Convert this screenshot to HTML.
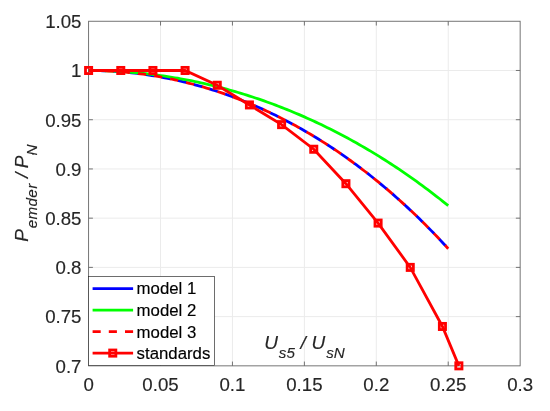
<!DOCTYPE html>
<html><head><meta charset="utf-8"><title>plot</title>
<style>
html,body{margin:0;padding:0;background:#fff;}
body{width:550px;height:411px;overflow:hidden;}
svg{display:block;}
text{font-family:"Liberation Sans",sans-serif;}
.tk{font-size:18.67px;fill:#262626;stroke:#262626;stroke-width:0.15px;}
.lb{font-size:19px;fill:#262626;font-style:italic;stroke:#262626;stroke-width:0.15px;}
.lb.sub{font-size:15.2px;}
.lg{font-size:16.8px;fill:#000;stroke:#000;stroke-width:0.15px;}
</style></head><body>
<svg width="550" height="411" viewBox="0 0 550 411">
<rect x="0" y="0" width="550" height="411" fill="#fff"/>
<path d="M160.52 21.25V365.85M232.45 21.25V365.85M304.38 21.25V365.85M376.30 21.25V365.85M448.23 21.25V365.85M88.60 316.62H520.15M88.60 267.39H520.15M88.60 218.16H520.15M88.60 168.94H520.15M88.60 119.71H520.15M88.60 70.48H520.15" stroke="#ebebeb" stroke-width="1" fill="none"/>
<path d="M160.52 365.85v-4.3M160.52 21.25v4.3M232.45 365.85v-4.3M232.45 21.25v4.3M304.38 365.85v-4.3M304.38 21.25v4.3M376.30 365.85v-4.3M376.30 21.25v4.3M448.23 365.85v-4.3M448.23 21.25v4.3M88.60 316.62h4.3M520.15 316.62h-4.3M88.60 267.39h4.3M520.15 267.39h-4.3M88.60 218.16h4.3M520.15 218.16h-4.3M88.60 168.94h4.3M520.15 168.94h-4.3M88.60 119.71h4.3M520.15 119.71h-4.3M88.60 70.48h4.3M520.15 70.48h-4.3" stroke="#666" stroke-width="0.9" fill="none"/>
<rect x="88.60" y="21.25" width="431.55" height="344.60" fill="none" stroke="#666" stroke-width="0.9"/>
<polyline points="88.60,70.48 91.48,70.49 94.35,70.52 97.23,70.57 100.11,70.64 102.98,70.74 105.86,70.85 108.74,70.99 111.62,71.14 114.49,71.32 117.37,71.52 120.25,71.73 123.12,71.97 126.00,72.23 128.88,72.51 131.75,72.82 134.63,73.14 137.51,73.48 140.39,73.85 143.26,74.23 146.14,74.64 149.02,75.06 151.89,75.51 154.77,75.98 157.65,76.47 160.52,76.98 163.40,77.52 166.28,78.07 169.16,78.65 172.03,79.24 174.91,79.86 177.79,80.50 180.66,81.16 183.54,81.84 186.42,82.54 189.30,83.27 192.17,84.02 195.05,84.78 197.93,85.57 200.80,86.39 203.68,87.22 206.56,88.07 209.43,88.95 212.31,89.85 215.19,90.77 218.06,91.71 220.94,92.68 223.82,93.67 226.70,94.68 229.57,95.71 232.45,96.76 235.33,97.84 238.20,98.94 241.08,100.06 243.96,101.21 246.83,102.37 249.71,103.57 252.59,104.78 255.47,106.02 258.34,107.28 261.22,108.56 264.10,109.87 266.97,111.20 269.85,112.55 272.73,113.93 275.61,115.33 278.48,116.75 281.36,118.20 284.24,119.67 287.11,121.17 289.99,122.69 292.87,124.24 295.74,125.81 298.62,127.40 301.50,129.02 304.38,130.67 307.25,132.34 310.13,134.03 313.01,135.75 315.88,137.50 318.76,139.27 321.64,141.07 324.51,142.89 327.39,144.74 330.27,146.62 333.14,148.52 336.02,150.45 338.90,152.40 341.78,154.39 344.65,156.40 347.53,158.43 350.41,160.50 353.28,162.59 356.16,164.71 359.04,166.86 361.91,169.03 364.79,171.24 367.67,173.47 370.55,175.73 373.42,178.02 376.30,180.34 379.18,182.69 382.05,185.07 384.93,187.48 387.81,189.92 390.68,192.39 393.56,194.90 396.44,197.43 399.32,199.99 402.19,202.59 405.07,205.22 407.95,207.88 410.82,210.57 413.70,213.30 416.58,216.05 419.45,218.85 422.33,221.67 425.21,224.53 428.09,227.43 430.96,230.36 433.84,233.32 436.72,236.32 439.59,239.36 442.47,242.43 445.35,245.54 448.23,248.69" fill="none" stroke="#0000ff" stroke-width="2.8" stroke-dasharray="0.5 7.2 8.63 0" stroke-dashoffset="-0.5" stroke-linejoin="round"/>
<polyline points="88.60,70.48 91.48,70.49 94.35,70.51 97.23,70.55 100.11,70.61 102.98,70.68 105.86,70.77 108.74,70.87 111.62,70.99 114.49,71.13 117.37,71.28 120.25,71.45 123.12,71.64 126.00,71.84 128.88,72.06 131.75,72.29 134.63,72.54 137.51,72.81 140.39,73.09 143.26,73.39 146.14,73.71 149.02,74.04 151.89,74.39 154.77,74.75 157.65,75.13 160.52,75.53 163.40,75.94 166.28,76.37 169.16,76.82 172.03,77.28 174.91,77.76 177.79,78.25 180.66,78.76 183.54,79.29 186.42,79.84 189.30,80.40 192.17,80.98 195.05,81.57 197.93,82.18 200.80,82.81 203.68,83.46 206.56,84.12 209.43,84.80 212.31,85.49 215.19,86.20 218.06,86.93 220.94,87.68 223.82,88.44 226.70,89.22 229.57,90.02 232.45,90.83 235.33,91.66 238.20,92.51 241.08,93.38 243.96,94.26 246.83,95.16 249.71,96.08 252.59,97.02 255.47,97.97 258.34,98.94 261.22,99.93 264.10,100.93 266.97,101.96 269.85,103.00 272.73,104.06 275.61,105.13 278.48,106.23 281.36,107.34 284.24,108.47 287.11,109.62 289.99,110.79 292.87,111.97 295.74,113.18 298.62,114.40 301.50,115.64 304.38,116.90 307.25,118.18 310.13,119.47 313.01,120.79 315.88,122.12 318.76,123.47 321.64,124.85 324.51,126.24 327.39,127.65 330.27,129.08 333.14,130.53 336.02,132.00 338.90,133.48 341.78,134.99 344.65,136.52 347.53,138.07 350.41,139.63 353.28,141.22 356.16,142.83 359.04,144.46 361.91,146.10 364.79,147.77 367.67,149.46 370.55,151.17 373.42,152.90 376.30,154.65 379.18,156.43 382.05,158.22 384.93,160.04 387.81,161.87 390.68,163.73 393.56,165.61 396.44,167.51 399.32,169.44 402.19,171.38 405.07,173.35 407.95,175.34 410.82,177.36 413.70,179.39 416.58,181.45 419.45,183.53 422.33,185.64 425.21,187.77 428.09,189.92 430.96,192.10 433.84,194.30 436.72,196.52 439.59,198.77 442.47,201.04 445.35,203.34 448.23,205.66" fill="none" stroke="#00ff00" stroke-width="2.8" stroke-linejoin="round"/>
<polyline points="88.60,70.48 91.48,70.49 94.35,70.52 97.23,70.57 100.11,70.64 102.98,70.74 105.86,70.85 108.74,70.99 111.62,71.14 114.49,71.32 117.37,71.52 120.25,71.73 123.12,71.97 126.00,72.23 128.88,72.51 131.75,72.82 134.63,73.14 137.51,73.48 140.39,73.85 143.26,74.23 146.14,74.64 149.02,75.06 151.89,75.51 154.77,75.98 157.65,76.47 160.52,76.98 163.40,77.52 166.28,78.07 169.16,78.65 172.03,79.24 174.91,79.86 177.79,80.50 180.66,81.16 183.54,81.84 186.42,82.54 189.30,83.27 192.17,84.02 195.05,84.78 197.93,85.57 200.80,86.39 203.68,87.22 206.56,88.07 209.43,88.95 212.31,89.85 215.19,90.77 218.06,91.71 220.94,92.68 223.82,93.67 226.70,94.68 229.57,95.71 232.45,96.76 235.33,97.84 238.20,98.94 241.08,100.06 243.96,101.21 246.83,102.37 249.71,103.57 252.59,104.78 255.47,106.02 258.34,107.28 261.22,108.56 264.10,109.87 266.97,111.20 269.85,112.55 272.73,113.93 275.61,115.33 278.48,116.75 281.36,118.20 284.24,119.67 287.11,121.17 289.99,122.69 292.87,124.24 295.74,125.81 298.62,127.40 301.50,129.02 304.38,130.67 307.25,132.34 310.13,134.03 313.01,135.75 315.88,137.50 318.76,139.27 321.64,141.07 324.51,142.89 327.39,144.74 330.27,146.62 333.14,148.52 336.02,150.45 338.90,152.40 341.78,154.39 344.65,156.40 347.53,158.43 350.41,160.50 353.28,162.59 356.16,164.71 359.04,166.86 361.91,169.03 364.79,171.24 367.67,173.47 370.55,175.73 373.42,178.02 376.30,180.34 379.18,182.69 382.05,185.07 384.93,187.48 387.81,189.92 390.68,192.39 393.56,194.90 396.44,197.43 399.32,199.99 402.19,202.59 405.07,205.22 407.95,207.88 410.82,210.57 413.70,213.30 416.58,216.05 419.45,218.85 422.33,221.67 425.21,224.53 428.09,227.43 430.96,230.36 433.84,233.32 436.72,236.32 439.59,239.36 442.47,242.43 445.35,245.54 448.23,248.69" fill="none" stroke="#ff0000" stroke-width="2.8" stroke-dasharray="8.2 8.13" stroke-dashoffset="-0.5" stroke-linejoin="round"/>
<polyline points="88.60,70.48 120.77,70.48 152.93,70.48 185.10,70.48 217.26,85.25 249.43,104.94 281.60,124.63 313.76,149.24 345.93,183.70 378.09,223.09 410.26,267.39 442.42,326.47 458.87,365.85" fill="none" stroke="#ff0000" stroke-width="2.8" stroke-linejoin="miter"/>
<rect x="85.50" y="67.38" width="6.2" height="6.2" fill="none" stroke="#ff0000" stroke-width="2.8"/>
<rect x="117.67" y="67.38" width="6.2" height="6.2" fill="none" stroke="#ff0000" stroke-width="2.8"/>
<rect x="149.83" y="67.38" width="6.2" height="6.2" fill="none" stroke="#ff0000" stroke-width="2.8"/>
<rect x="182.00" y="67.38" width="6.2" height="6.2" fill="none" stroke="#ff0000" stroke-width="2.8"/>
<rect x="214.16" y="82.15" width="6.2" height="6.2" fill="none" stroke="#ff0000" stroke-width="2.8"/>
<rect x="246.33" y="101.84" width="6.2" height="6.2" fill="none" stroke="#ff0000" stroke-width="2.8"/>
<rect x="278.50" y="121.53" width="6.2" height="6.2" fill="none" stroke="#ff0000" stroke-width="2.8"/>
<rect x="310.66" y="146.14" width="6.2" height="6.2" fill="none" stroke="#ff0000" stroke-width="2.8"/>
<rect x="342.83" y="180.60" width="6.2" height="6.2" fill="none" stroke="#ff0000" stroke-width="2.8"/>
<rect x="374.99" y="219.99" width="6.2" height="6.2" fill="none" stroke="#ff0000" stroke-width="2.8"/>
<rect x="407.16" y="264.29" width="6.2" height="6.2" fill="none" stroke="#ff0000" stroke-width="2.8"/>
<rect x="439.32" y="323.37" width="6.2" height="6.2" fill="none" stroke="#ff0000" stroke-width="2.8"/>
<rect x="455.77" y="362.75" width="6.2" height="6.2" fill="none" stroke="#ff0000" stroke-width="2.8"/>
<text class="tk" x="88.60" y="390.5" text-anchor="middle">0</text>
<text class="tk" x="160.52" y="390.5" text-anchor="middle">0.05</text>
<text class="tk" x="232.45" y="390.5" text-anchor="middle">0.1</text>
<text class="tk" x="304.38" y="390.5" text-anchor="middle">0.15</text>
<text class="tk" x="376.30" y="390.5" text-anchor="middle">0.2</text>
<text class="tk" x="448.23" y="390.5" text-anchor="middle">0.25</text>
<text class="tk" x="520.15" y="390.5" text-anchor="middle">0.3</text>
<text class="tk" x="81.5" y="372.65" text-anchor="end">0.7</text>
<text class="tk" x="81.5" y="323.42" text-anchor="end">0.75</text>
<text class="tk" x="81.5" y="274.19" text-anchor="end">0.8</text>
<text class="tk" x="81.5" y="224.96" text-anchor="end">0.85</text>
<text class="tk" x="81.5" y="175.74" text-anchor="end">0.9</text>
<text class="tk" x="81.5" y="126.51" text-anchor="end">0.95</text>
<text class="tk" x="81.5" y="77.28" text-anchor="end">1</text>
<text class="tk" x="81.5" y="28.05" text-anchor="end">1.05</text>
<text class="lb" x="264.3" y="348.75">U</text>
<text class="lb sub" x="278.8" y="357.55">s5</text>
<text class="lb" x="300.55" y="348.75">/</text>
<text class="lb" x="311.4" y="348.75">U</text>
<text class="lb sub" x="326.25" y="357.55">sN</text>
<g transform="translate(27.7,242.5) rotate(-90)">
<text class="lb" x="0.7" y="0">P</text>
<text class="lb sub" x="14.2" y="9.6" letter-spacing="0.38">emder</text>
<text class="lb" x="64.4" y="0">/</text>
<text class="lb" x="74.3" y="0">P</text>
<text class="lb sub" x="86.9" y="9.4">N</text>
</g>
<rect x="88.5" y="276.5" width="126.00" height="89.00" fill="#fff" stroke="#262626" stroke-width="0.67"/>
<line x1="92.6" y1="288.7" x2="133.1" y2="288.7" stroke="#0000ff" stroke-width="2.8"/>
<text class="lg" x="136.6" y="294.40">model 1</text>
<line x1="92.6" y1="310.15" x2="133.1" y2="310.15" stroke="#00ff00" stroke-width="2.8"/>
<text class="lg" x="136.6" y="315.85">model 2</text>
<line x1="92.6" y1="331.6" x2="133.1" y2="331.6" stroke="#ff0000" stroke-width="2.8" stroke-dasharray="8.1 8.1"/>
<text class="lg" x="136.6" y="337.50">model 3</text>
<line x1="92.6" y1="353.1" x2="133.1" y2="353.1" stroke="#ff0000" stroke-width="2.8"/>
<rect x="109.65" y="350.00" width="6.2" height="6.2" fill="none" stroke="#ff0000" stroke-width="2.8"/>
<text class="lg" x="136.6" y="359.20">standards</text>
</svg></body></html>
